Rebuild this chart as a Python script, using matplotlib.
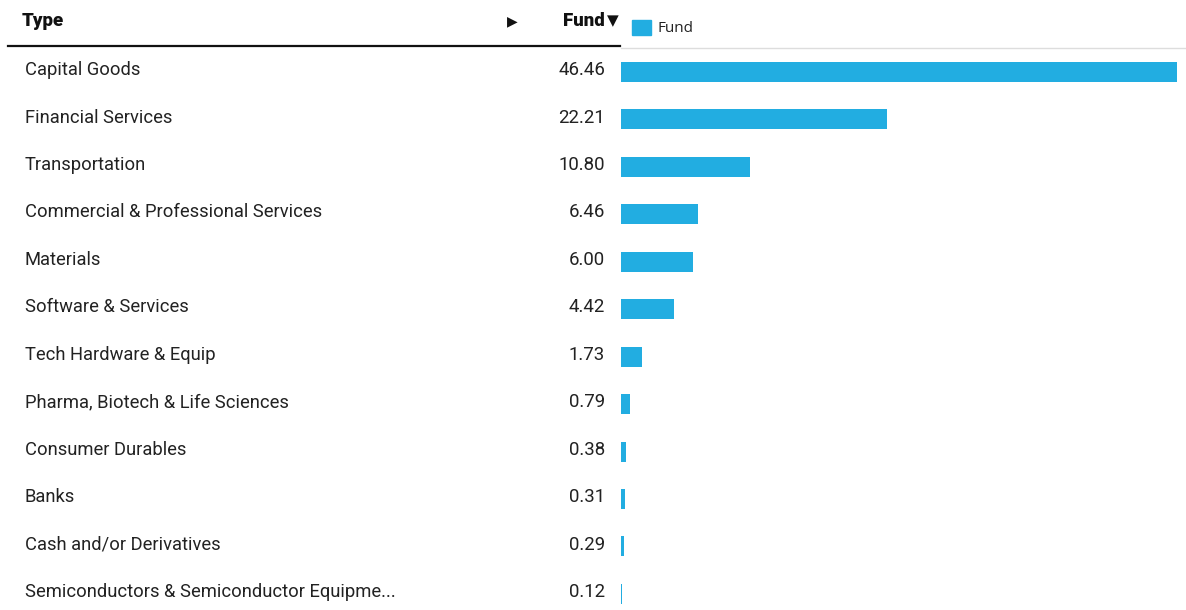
import matplotlib.pyplot as plt
from matplotlib.transforms import blended_transform_factory

# sector weights of the fund (%)
sectors = ["Capital Goods", "Financial Services", "Transportation",
           "Commercial & Professional Services", "Materials",
           "Software & Services", "Tech Hardware & Equip",
           "Pharma, Biotech & Life Sciences", "Consumer Durables", "Banks",
           "Cash and/or Derivatives",
           "Semiconductors & Semiconductor Equipme..."]
fund = [46.46, 22.21, 10.80, 6.46, 6.00, 4.42, 1.73, 0.79, 0.38, 0.31, 0.29, 0.12]
value_labels = ["46.46", "22.21", "10.80", "6.46", "6.00", "4.42", "1.73",
                "0.79", "0.38", "0.31", "0.29", "0.12"]

W, H = 1186, 610
bar_color = "#22ade1"

fig = plt.figure(figsize=(W / 100, H / 100), dpi=100)
plt.rcParams['font.family'] = ['Roboto', 'DejaVu Sans']

# bar area: from x=621px to the right edge, top at the grey rule
ax = fig.add_axes([621 / W, 0, 1 - 621 / W, 1 - 48 / H])
rows = list(range(len(sectors)))
ax.barh(rows, fund, height=0.42, color=bar_color)
ax.set_xlim(0, (W - 621) / 11.97)
ax.set_ylim(11.34, -0.506)
ax.axis("off")

# row labels live in figure-x / data-y coordinates
tr = blended_transform_factory(fig.transFigure, ax.transData)
for i, (name, lab) in enumerate(zip(sectors, value_labels)):
    ax.text(25 / W, i - 0.04, name, transform=tr, ha="left", va="center",
            fontsize=13.2, color="#222222")
    ax.text(605 / W, i - 0.04, lab, transform=tr, ha="right", va="center",
            fontsize=13.4, color="#222222")

# table header
fig.text(22 / W, 1 - 21 / H, "Type", ha="left", va="center",
         fontsize=13.4, fontweight="black", color="#111111")
fig.text(512 / W, 1 - 21 / H, "\u25b6", ha="center", va="center",
         fontsize=10, color="#111111", family=["DejaVu Sans"])
fig.text(605 / W, 1 - 21 / H, "Fund", ha="right", va="center",
         fontsize=13.4, fontweight="black", color="#111111")
fig.text(613 / W, 1 - 21 / H, "\u25bc", ha="center", va="center",
         fontsize=11, color="#111111", family=["DejaVu Sans"])
fig.add_artist(plt.Line2D([8 / W, 620 / W], [1 - 46 / H, 1 - 46 / H],
                          transform=fig.transFigure, color="#111111", lw=1.6))
fig.add_artist(plt.Line2D([621 / W, 1], [1 - 48 / H, 1 - 48 / H],
                          transform=fig.transFigure, color="#dddddd", lw=1.0))

# legend
fig.add_artist(plt.Rectangle((632 / W, 1 - 35 / H), 19 / W, 15 / H,
                             transform=fig.transFigure, color=bar_color))
fig.text(657 / W, 1 - 28 / H, "Fund", ha="left", va="center",
         fontsize=11, color="#222222", family=["Open Sans", "DejaVu Sans"])

fig.savefig("out.png", dpi=100, facecolor="white")
